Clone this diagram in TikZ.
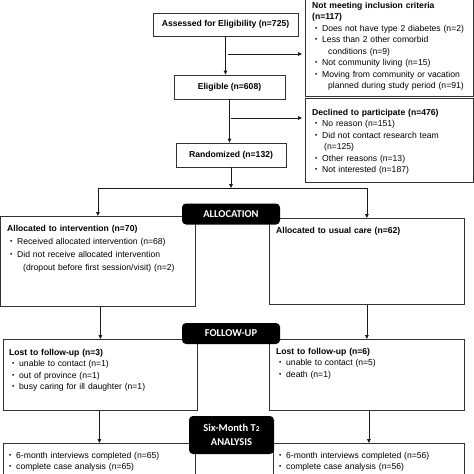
\documentclass[tikz,border=0pt]{standalone}
\usepackage{fontspec}
\setmainfont{Liberation Sans}
\newfontfamily\labelfont{Carlito}
\usetikzlibrary{positioning,arrows.meta,calc}

% small bullet used in the lists
\newcommand{\bul}{\makebox[7pt][l]{\raisebox{0.6pt}{\fontsize{6.5}{6.5}\selectfont\textbullet}}}

\begin{document}
\begin{tikzpicture}[x=1pt,y=-1pt,
    box/.style={draw=black!80,line width=0.8pt,inner sep=0pt},
    txt/.style={anchor=base west,inner sep=0pt,text width=#1,align=left,font=\fontsize{8.6}{11.5}\selectfont},
    txt/.default=160pt,
    tag/.style={fill=black,text=white,rounded corners=4pt,inner sep=0pt,align=center,
        font=\labelfont\bfseries\fontsize{10.5}{14}\selectfont,minimum width=98pt,minimum height=21pt},
    arr/.style={draw=black!90,line width=0.8pt,-{Triangle[length=4pt,width=3.6pt]}}]
    \useasboundingbox (0,0) rectangle (474,474);

    % enrolment
    \node[box,minimum width=145pt,minimum height=23pt,font=\fontsize{8.6}{11}\selectfont\bfseries] (assess) at (225.5,24.5) {Assessed for Eligibility (n=725)};
    \node[box,minimum width=111pt,minimum height=24pt,font=\fontsize{8.6}{11}\selectfont\bfseries] (elig) at (229.5,87) {Eligible (n=608)};
    \node[box,minimum width=110pt,minimum height=24pt,font=\fontsize{8.6}{11}\selectfont\bfseries] (rand) at (231,155) {Randomized (n=132)};

    \node[box,anchor=north west,minimum width=168pt,minimum height=97pt] (notmeet) at (305,-1) {};
    \node[txt] (notmeettxt) at (312,8) {\textbf{Not meeting inclusion criteria}\\\textbf{(n=117)}\\
        \hspace*{3pt}\bul Does not have type 2 diabetes (n=2)\\
        \hspace*{3pt}\bul Less than 2 other comorbid\\
        \hspace*{16pt}conditions (n=9)\\
        \hspace*{3pt}\bul Not community living (n=15)\\
        \hspace*{3pt}\bul Moving from community or vacation\\
        \hspace*{16pt}planned during study period (n=91)};

    \node[box,anchor=north west,minimum width=168pt,minimum height=84pt] (decl) at (305,98) {};
    \node[txt] (decltxt) at (312,115) {\textbf{Declined to participate (n=476)}\\
        \hspace*{3pt}\bul No reason (n=151)\\
        \hspace*{3pt}\bul Did not contact research team\\
        \hspace*{12pt}(n=125)\\
        \hspace*{3pt}\bul Other reasons (n=13)\\
        \hspace*{3pt}\bul Not interested (n=187)};

    \coordinate (b1) at (228,54);
    \coordinate (b2) at (231,118);
    \coordinate (split) at (231,188);
    \draw[arr] (assess) -- (assess |- elig.north);
    \draw[arr,shorten >=3pt] (b1) -- (b1 -| notmeet.west);
    \draw[arr] (elig) -- (elig |- rand.north);
    \draw[arr,shorten >=3pt] (b2) -- (b2 -| decl.west);
    \draw[arr] (rand) -- (split);

    % allocation
    \node[box,anchor=north west,minimum width=195pt,minimum height=90pt] (intv) at (0,216) {};
    \node[txt=188pt,font=\fontsize{8.6}{13}\selectfont] (intvtxt) at (7,231) {\textbf{Allocated to intervention (n=70)}\\
        \hspace*{3pt}\bul Received allocated intervention (n=68)\\
        \hspace*{3pt}\bul Did not receive allocated intervention\\
        \hspace*{16pt}(dropout before first session/visit) (n=2)};
    \node[box,anchor=north west,minimum width=195pt,minimum height=86pt] (usual) at (269,218) {};
    \node[txt=188pt] (usualtxt) at (276,233) {\textbf{Allocated to usual care (n=62)}};
    \draw[arr] (split) -| (intv.north);
    \draw[arr] (split) -| (usual.north);
    \node[tag] (alloc) at (231,214) {ALLOCATION};

    % follow-up
    \node[box,anchor=north west,minimum width=194pt,minimum height=71pt] (fuL) at (3,339) {};
    \node[txt=185pt] (fuLtxt) at (9,355) {\textbf{Lost to follow-up (n=3)}\\
        \hspace*{3pt}\bul unable to contact (n=1)\\
        \hspace*{3pt}\bul out of province (n=1)\\
        \hspace*{3pt}\bul busy caring for ill daughter (n=1)};
    \node[box,anchor=north west,minimum width=195pt,minimum height=71pt] (fuR) at (269,339) {};
    \node[txt=185pt] (fuRtxt) at (276,354) {\textbf{Lost to follow-up (n=6)}\\
        \hspace*{3pt}\bul unable to contact (n=5)\\
        \hspace*{3pt}\bul death (n=1)};
    \draw[arr] (fuL.north |- intv.south) -- (fuL.north);
    \draw[arr] (fuR.north |- usual.south) -- (fuR.north);
    \node[tag] (follow) at (231,333.5) {FOLLOW-UP};

    % analysis
    \node[box,anchor=north west,minimum width=192pt,minimum height=40pt] (anL) at (3,443) {};
    \node[txt=185pt] (anLtxt) at (9,458) {\bul 6-month interviews completed (n=65)\\
        \bul complete case analysis (n=65)};
    \node[box,anchor=north west,minimum width=191pt,minimum height=40pt] (anR) at (273,443) {};
    \node[txt=185pt] (anRtxt) at (279,458) {\bul 6-month interviews completed (n=56)\\
        \bul complete case analysis (n=56)};
    \draw[arr] (anL.north |- fuL.south) -- (anL.north);
    \draw[arr] (anR.north |- fuR.south) -- (anR.north);
    \node[tag,minimum width=85pt,minimum height=38pt] (six) at (231.5,435) {Six-Month T{\fontsize{7.5}{8}\selectfont 2}\\ANALYSIS};
\end{tikzpicture}
\end{document}
